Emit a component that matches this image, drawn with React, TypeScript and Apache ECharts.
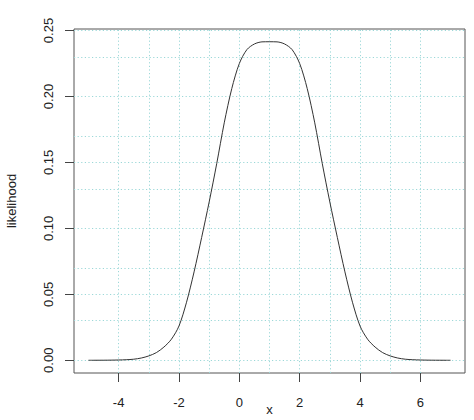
import { useEffect, useRef } from 'react';
import * as echarts from 'echarts';

// x positions of the curve, read every 0.25
const X_VALUES = [
  -5, -4.75, -4.5, -4.25, -4, -3.75, -3.5, -3.25, -3, -2.75, -2.5, -2.25, -2,
  -1.75, -1.5, -1.25, -1, -0.75, -0.5, -0.25, 0, 0.25, 0.5, 0.75, 1,
  1.25, 1.5, 1.75, 2, 2.25, 2.5, 2.75, 3, 3.25, 3.5, 3.75, 4,
  4.25, 4.5, 4.75, 5, 5.25, 5.5, 5.75, 6, 6.25, 6.5, 6.75, 7,
];

// likelihood at each x
const LIKELIHOOD = [
  0, 0.00001, 0.00004, 0.0001, 0.0002, 0.0004, 0.0008, 0.0017, 0.0033, 0.0058, 0.01, 0.016, 0.026,
  0.044, 0.067, 0.093, 0.12, 0.149, 0.18, 0.206, 0.225, 0.2355, 0.2398, 0.2414, 0.2415,
  0.2414, 0.2398, 0.2355, 0.225, 0.206, 0.18, 0.149, 0.12, 0.093, 0.067, 0.044, 0.026,
  0.016, 0.01, 0.0058, 0.0033, 0.0017, 0.0008, 0.0004, 0.0002, 0.0001, 0.00004, 0.00001, 0,
];

const X_TICKS = [-4, -2, 0, 2, 4, 6];
const Y_TICKS = [0, 0.05, 0.1, 0.15, 0.2, 0.25];
const GRID_X = [-4, -3, -2, -1, 0, 1, 2, 3, 4, 5, 6];
const GRID_Y = [0, 0.025, 0.05, 0.075, 0.1, 0.125, 0.15, 0.175, 0.2, 0.225, 0.25];

const FONT = '"Liberation Sans", Arial, Helvetica, sans-serif';
const TEXT = '#222';
const AXIS = '#444';

export default function App() {
  const chartRef = useRef<HTMLDivElement | null>(null);

  useEffect(() => {
    if (!chartRef.current) return undefined;
    const chart = echarts.init(chartRef.current, undefined, { renderer: 'svg' });

    const points = X_VALUES.map((x, i) => [x, LIKELIHOOD[i]]);

    chart.setOption({
      animation: false,
      backgroundColor: '#fff',
      textStyle: { fontFamily: FONT },
      grid: {
        left: 74,
        top: 29,
        width: 391,
        height: 344,
        outerBoundsMode: 'none',
        containLabel: false,
        show: true,
        borderColor: '#555',
        borderWidth: 1,
        backgroundColor: 'transparent',
      },
      xAxis: {
        type: 'value',
        min: -5.48,
        max: 7.48,
        name: 'x',
        nameLocation: 'middle',
        nameGap: 30,
        nameMoveOverlap: false,
        nameTextStyle: { fontSize: 13, color: TEXT, fontFamily: FONT },
        axisLine: { show: false, onZero: false },
        axisTick: { show: true, length: 9, lineStyle: { color: AXIS }, customValues: X_TICKS },
        axisLabel: {
          customValues: X_TICKS,
          fontSize: 13,
          color: TEXT,
          fontFamily: FONT,
          margin: 23,
        },
        splitLine: { show: false },
      },
      yAxis: {
        type: 'value',
        min: -0.00966,
        max: 0.25116,
        name: 'likelihood',
        nameLocation: 'middle',
        nameRotate: 90,
        nameGap: 56,
        nameMoveOverlap: false,
        nameTextStyle: { fontSize: 13, color: TEXT, fontFamily: FONT },
        axisLine: { show: false, onZero: false },
        axisTick: { show: true, length: 9, lineStyle: { color: AXIS }, customValues: Y_TICKS },
        axisLabel: {
          customValues: Y_TICKS,
          rotate: 90,
          fontSize: 13,
          color: TEXT,
          fontFamily: FONT,
          margin: 19,
          formatter: (v: number) => v.toFixed(2),
        },
        splitLine: { show: false },
      },
      series: [
        {
          type: 'line',
          data: points,
          showSymbol: false,
          smooth: 0.3,
          lineStyle: { color: '#333', width: 1 },
          z: 3,
          markLine: {
            silent: true,
            symbol: 'none',
            z: 1,
            label: { show: false },
            lineStyle: { color: '#9cd8d8', type: [1.2, 2.4], width: 1 },
            emphasis: { disabled: true },
            data: [
              ...GRID_X.map((v) => ({ xAxis: v })),
              ...GRID_Y.map((v) => ({ yAxis: v })),
            ],
          },
        },
      ],
    });

    return () => {
      chart.dispose();
    };
  }, []);

  return (
    <div
      ref={chartRef}
      style={{ position: 'absolute', left: 0, top: 0, width: 474, height: 420 }}
    />
  );
}
